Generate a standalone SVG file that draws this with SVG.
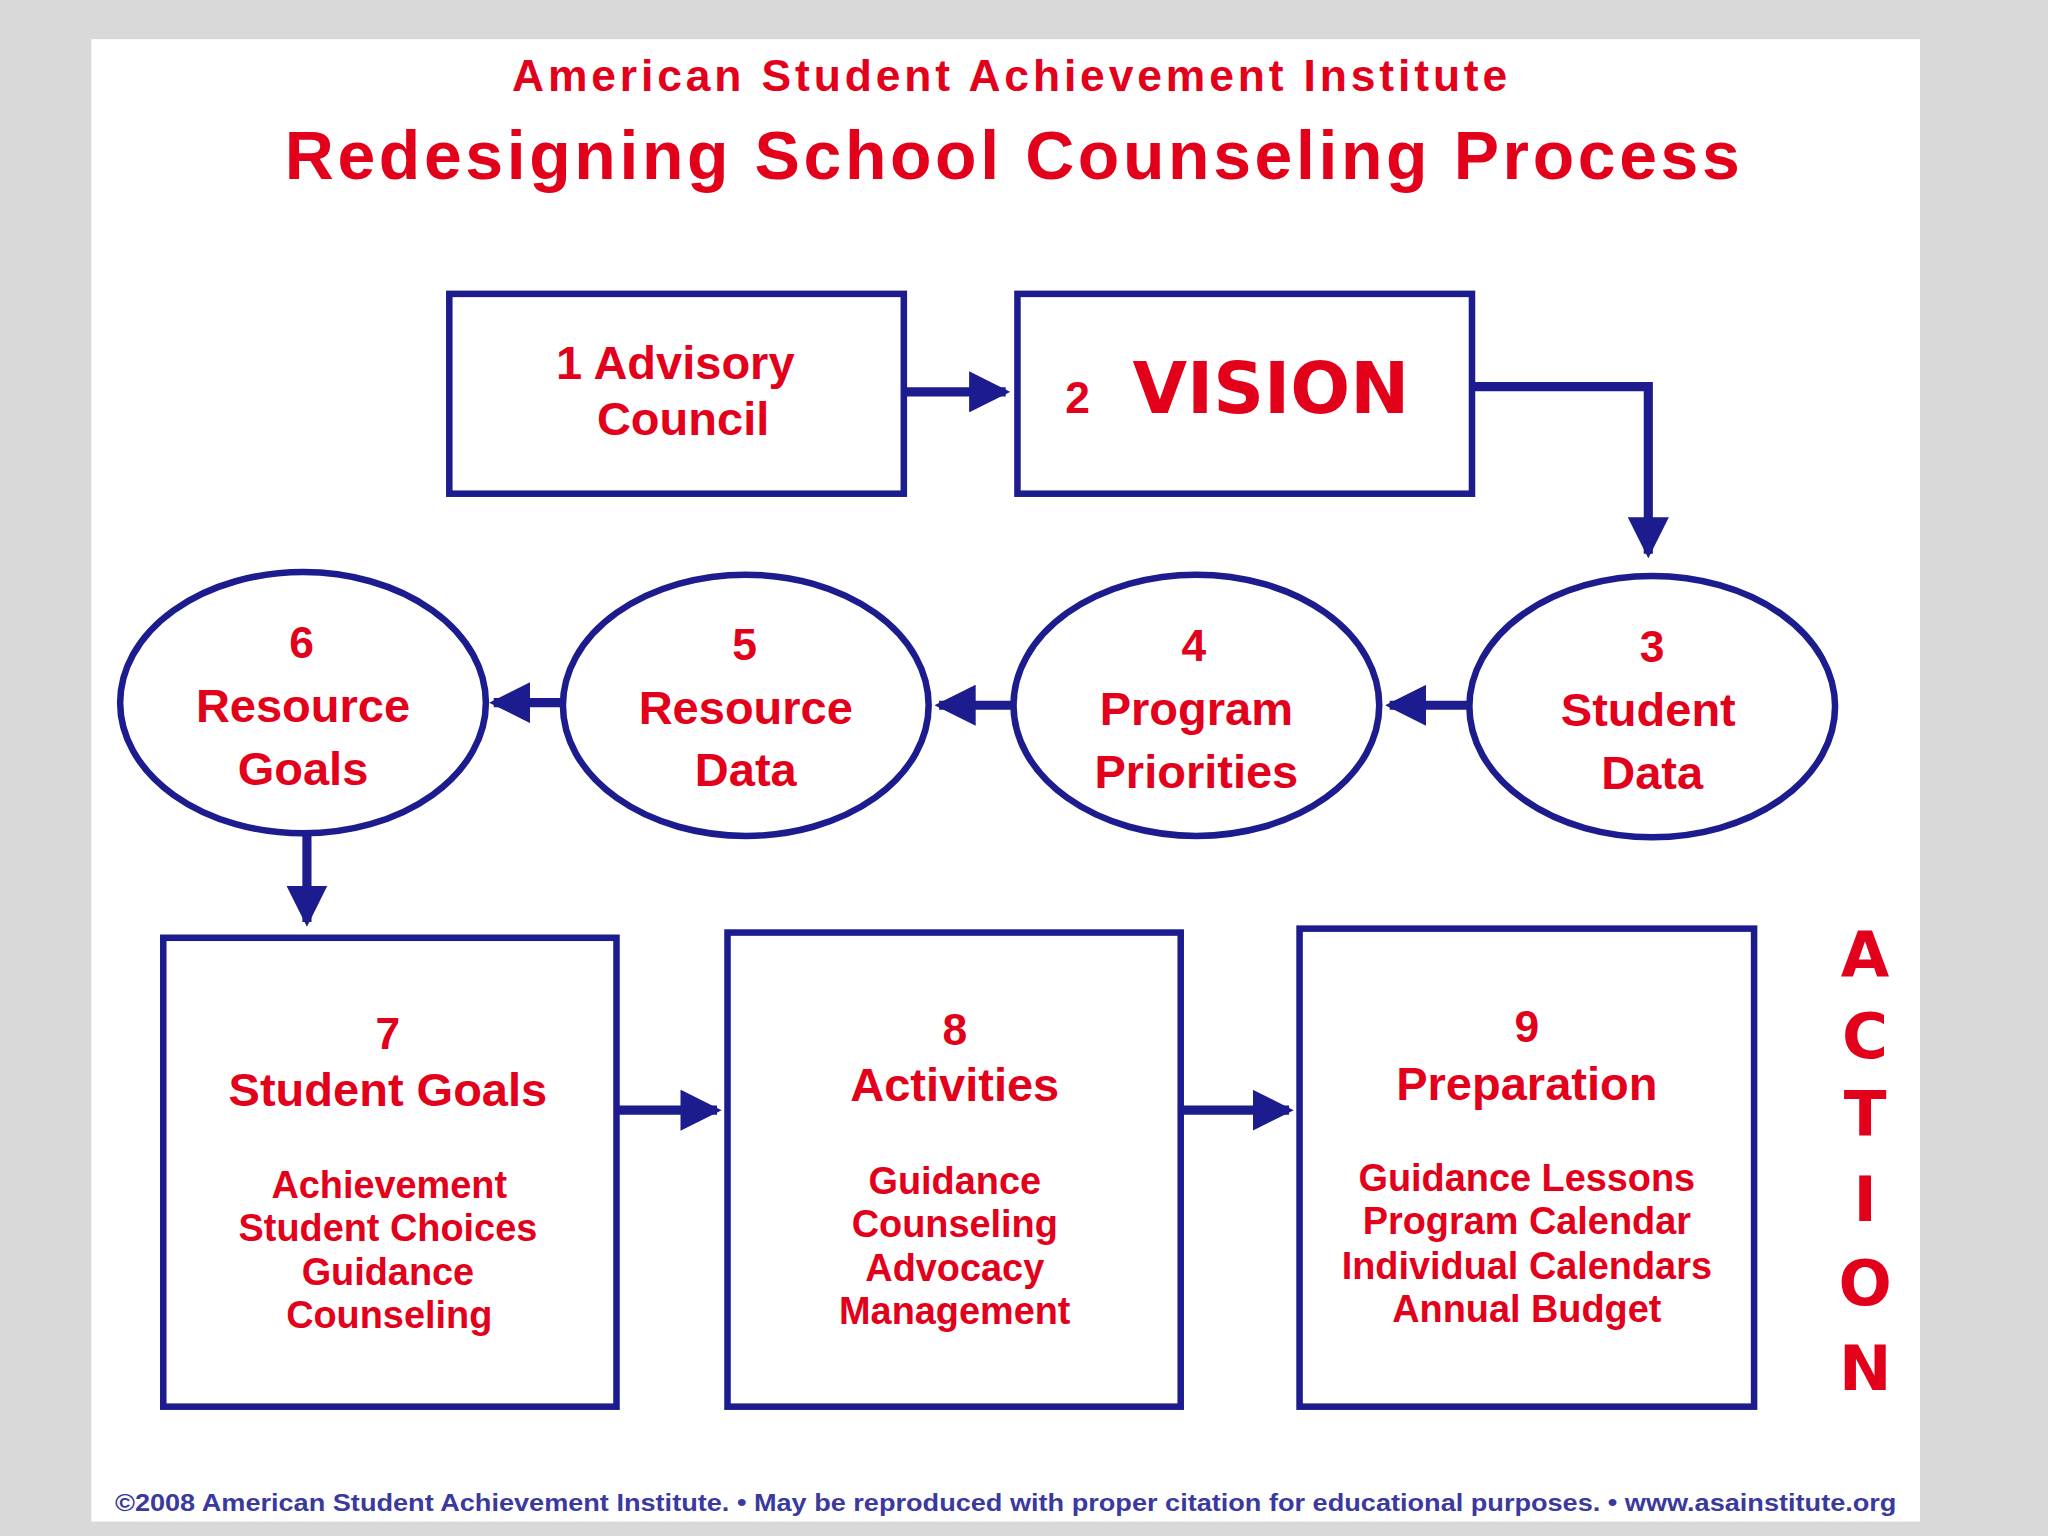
<svg xmlns="http://www.w3.org/2000/svg" width="2048" height="1536" viewBox="0 0 2048 1536">
<style>
.b{fill:none;stroke:#1c1c8e;stroke-width:5}
.c{stroke:#1c1c8e;stroke-width:7;fill:none}
.t{font-family:"Liberation Sans",Arial,sans-serif;font-weight:bold;fill:#e3001b;text-anchor:middle}
.a{font-family:"DejaVu Sans",sans-serif;font-weight:bold;fill:#e3001b;text-anchor:middle;font-size:48px}
</style>
<defs><marker id="ar" markerWidth="4.5" markerHeight="4.5" refX="4" refY="2.25" orient="auto" markerUnits="strokeWidth"><path d="M0,0L4.5,2.25L0,4.5z" fill="#1c1c8e"/></marker></defs>
<rect width="2048" height="1536" fill="#d9d9d9"/>
<g transform="scale(1.3061)">
<rect x="70" y="30" width="1400" height="1135" fill="#fff"/>
<text class="t" x="773" y="70" font-size="34" textLength="762" lengthAdjust="spacing">American Student Achievement Institute</text>
<text class="t" x="775" y="137" font-size="52" textLength="1114" lengthAdjust="spacing">Redesigning  School  Counseling  Process</text>
<g id="n1"><rect class="b" x="344" y="225" width="348" height="153"/><text class="t" x="517" y="290" font-size="36">1  Advisory</text><text class="t" x="523" y="333" font-size="36">Council</text></g>
<g id="n2"><rect class="b" x="779" y="225" width="348" height="153"/><text class="t" x="825" y="316" font-size="34">2</text><text class="t" x="973" y="316" font-size="54" style="font-family:'DejaVu Sans',sans-serif">VISION</text></g>
<g id="n3"><ellipse class="b" cx="1265" cy="541" rx="140" ry="100"/><text class="t" x="1265" y="507" font-size="34">3</text><text class="t" x="1262" y="556" font-size="36">Student</text><text class="t" x="1265" y="604" font-size="36">Data</text></g>
<g id="n4"><ellipse class="b" cx="916" cy="540" rx="140" ry="100"/><text class="t" x="914" y="506" font-size="34">4</text><text class="t" x="916" y="555" font-size="36">Program</text><text class="t" x="916" y="603" font-size="36">Priorities</text></g>
<g id="n5"><ellipse class="b" cx="571" cy="540" rx="140" ry="100"/><text class="t" x="570" y="505" font-size="34">5</text><text class="t" x="571" y="554" font-size="36">Resource</text><text class="t" x="571" y="602" font-size="36">Data</text></g>
<g id="n6"><ellipse class="b" cx="232" cy="538" rx="140" ry="100"/><text class="t" x="231" y="504" font-size="34">6</text><text class="t" x="232" y="553" font-size="36">Resource</text><text class="t" x="232" y="601" font-size="36">Goals</text></g>
<g id="n7"><rect class="b" x="125" y="718" width="347" height="359"/><text class="t" x="297" y="803" font-size="34">7</text><text class="t" x="297" y="847" font-size="36">Student Goals</text>
<g font-size="29"><text class="t" x="298" y="917">Achievement</text><text class="t" x="297" y="950">Student Choices</text><text class="t" x="297" y="984">Guidance</text><text class="t" x="298" y="1017">Counseling</text></g></g>
<g id="n8"><rect class="b" x="557" y="714" width="347" height="363"/><text class="t" x="731" y="800" font-size="34">8</text><text class="t" x="731" y="843" font-size="36">Activities</text>
<g font-size="29"><text class="t" x="731" y="914">Guidance</text><text class="t" x="731" y="947">Counseling</text><text class="t" x="731" y="981">Advocacy</text><text class="t" x="731" y="1014">Management</text></g></g>
<g id="n9"><rect class="b" x="995" y="711" width="348" height="366"/><text class="t" x="1169" y="798" font-size="34">9</text><text class="t" x="1169" y="842" font-size="36">Preparation</text>
<g font-size="29"><text class="t" x="1169" y="912">Guidance Lessons</text><text class="t" x="1169" y="945">Program Calendar</text><text class="t" x="1169" y="979">Individual Calendars</text><text class="t" x="1169" y="1012">Annual Budget</text></g></g>
<g id="connectors">
<path class="c" d="M692 300H770" marker-end="url(#ar)"/>
<path class="c" d="M1127 296H1262V424" marker-end="url(#ar)"/>
<path class="c" d="M1125 540H1064" marker-end="url(#ar)"/>
<path class="c" d="M776 540H719" marker-end="url(#ar)"/>
<path class="c" d="M431 538H378" marker-end="url(#ar)"/>
<path class="c" d="M235 640V706" marker-end="url(#ar)"/>
<path class="c" d="M472 850H549" marker-end="url(#ar)"/>
<path class="c" d="M904 850H987" marker-end="url(#ar)"/>
</g>
<g id="action"><text class="a" x="1428" y="747">A</text><text class="a" x="1428" y="810">C</text><text class="a" x="1428" y="870">T</text><text class="a" x="1428" y="935">I</text><text class="a" x="1428" y="999">O</text><text class="a" x="1428" y="1064">N</text></g>
<text x="88" y="1157" font-family="'Liberation Sans Narrow','Liberation Sans',sans-serif" font-weight="bold" font-size="18" fill="#3a3a9e" textLength="1364" lengthAdjust="spacingAndGlyphs">©2008 American Student Achievement Institute.  •   May be reproduced with proper citation for educational purposes.  • www.asainstitute.org</text>
</g>
</svg>
